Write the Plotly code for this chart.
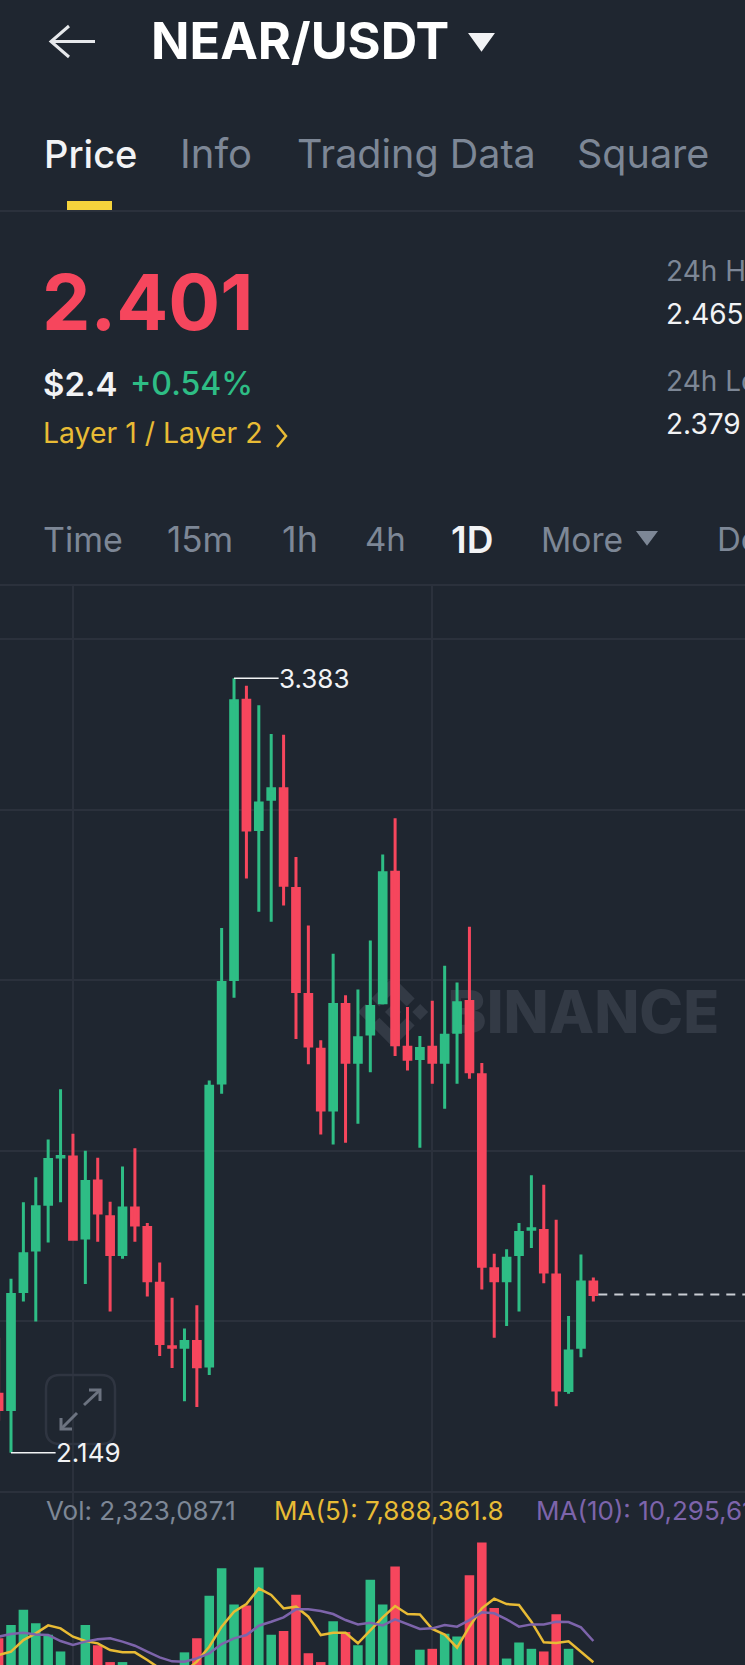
# NEAR/USDT 1D candles, app screenshot style
import plotly.graph_objects as go

W, H = 745, 1665

open_ = [2.242, 2.218, 2.406, 2.472, 2.545, 2.620, 2.620, 2.491, 2.582, 2.525,
         2.465, 2.539, 2.508, 2.419, 2.318, 2.317, 2.326, 2.287, 2.738, 2.903,
         3.348, 3.142, 3.190, 3.207, 3.048, 2.879, 2.792, 2.695, 2.863, 2.771,
         2.816, 2.866, 3.074, 2.795, 2.777, 2.795, 2.771, 2.819, 2.868, 2.751,
         2.442, 2.423, 2.465, 2.505, 2.503, 2.432, 2.248, 2.317, 2.421]
high = [2.332, 2.426, 2.548, 2.588, 2.648, 2.728, 2.657, 2.630, 2.619, 2.549,
        2.605, 2.634, 2.515, 2.452, 2.396, 2.347, 2.384, 2.742, 2.985, 3.383,
        3.371, 3.340, 3.294, 3.293, 3.098, 2.989, 2.806, 2.944, 2.878, 2.887,
        2.965, 3.102, 3.160, 2.859, 2.813, 2.869, 2.925, 2.898, 2.987, 2.770,
        2.466, 2.473, 2.515, 2.591, 2.576, 2.520, 2.367, 2.465, 2.428]
low = [2.200, 2.149, 2.390, 2.358, 2.484, 2.548, 2.487, 2.418, 2.485, 2.374,
       2.458, 2.485, 2.398, 2.303, 2.284, 2.231, 2.222, 2.273, 2.721, 2.874,
       3.064, 3.011, 2.995, 3.021, 2.808, 2.768, 2.656, 2.640, 2.643, 2.673,
       2.755, 2.863, 2.781, 2.758, 2.635, 2.737, 2.697, 2.737, 2.745, 2.409,
       2.332, 2.351, 2.374, 2.475, 2.419, 2.223, 2.243, 2.301, 2.390]
close = [2.218, 2.401, 2.466, 2.541, 2.616, 2.621, 2.489, 2.581, 2.531, 2.465,
         2.539, 2.512, 2.423, 2.323, 2.317, 2.326, 2.286, 2.733, 2.898, 3.347,
         3.141, 3.184, 3.207, 3.053, 2.884, 2.797, 2.695, 2.863, 2.771, 2.810,
         2.860, 3.073, 2.799, 2.776, 2.793, 2.771, 2.814, 2.866, 2.756, 2.446,
         2.423, 2.459, 2.500, 2.506, 2.437, 2.249, 2.311, 2.421, 2.401]

# volume in millions, the ones under the screen edge are guesses
vol_m = [10.6, 12.1, 13.8, 12.3, 11.0, 9.1, 7.0, 12.1, 9.8, 7.9,
         7.9, 7.0, 6.5, 6.8, 5.5, 9.0, 10.6, 15.4, 18.5, 14.4,
         14.3, 18.6, 11.0, 11.4, 15.5, 8.9, 7.9, 12.5, 11.3, 9.8,
         17.2, 14.4, 18.7, 7.0, 9.3, 9.4, 11.1, 10.8, 17.7, 21.4,
         14.0, 8.3, 10.1, 9.4, 9.1, 13.3, 9.4, 5.2, 2.323]
ma5_m = [8.70, 9.07, 10.39, 11.15, 12.05, 11.71, 10.77, 10.28, 10.02, 9.26,
         9.00, 9.00, 8.13, 7.19, 6.25, 6.82, 7.95, 9.64, 11.90, 13.59,
         14.46, 16.23, 15.48, 13.97, 14.16, 13.03, 10.96, 11.22, 11.22, 10.02,
         11.52, 12.95, 14.23, 13.33, 13.29, 11.64, 11.00, 9.53, 11.90, 13.97,
         15.06, 14.46, 14.35, 12.46, 10.13, 10.05, 10.24, 9.07, 7.89]
ma10_m = [10.77, 11.07, 11.22, 11.03, 10.96, 10.28, 9.83, 10.21, 10.47, 10.58,
          10.21, 9.75, 9.07, 8.43, 7.98, 7.95, 8.32, 8.89, 9.94, 10.58,
          10.96, 12.01, 12.46, 12.95, 13.86, 13.86, 13.67, 13.33, 12.65, 12.16,
          12.35, 12.05, 12.73, 12.20, 11.64, 11.71, 12.09, 11.90, 12.65, 13.52,
          13.41, 12.73, 11.90, 12.16, 12.16, 12.46, 12.43, 11.82, 10.28]

days = list(range(len(close)))

BG = "#1f2630"
GRID = "#2b313c"
GREEN = "#2ebd85"
RED = "#f6465d"
GREY = "#7d8796"
WHITE = "#f2f3f5"
YELLOW = "#e8bb35"
PURPLE = "#7d64ab"
FONT = "Inter"


def px(x):
    return x / W


def py(y):
    return 1 - y / H


def label(text, x, y, size, color, weight=400, anchor="left"):
    return dict(text=text, x=px(x), y=py(y), xref="paper", yref="paper", showarrow=False,
                xanchor=anchor, yanchor="middle", borderpad=0,
                font=dict(family=FONT, size=size, color=color, weight=weight))


def line(x0, y0, x1, y1, color, width):
    return dict(type="line", xref="paper", yref="paper", x0=px(x0), y0=py(y0), x1=px(x1), y1=py(y1),
                line=dict(color=color, width=width))


def path(points, fill=None, color=None, width=0, layer="above"):
    d = "M " + " L ".join(f"{px(a):.5f},{py(b):.5f}" for a, b in points) + (" Z" if fill else "")
    return dict(type="path", path=d, xref="paper", yref="paper", fillcolor=fill, layer=layer,
                line=dict(color=color or "rgba(0,0,0,0)", width=width))


fig = go.Figure()

# watermark sits on the first subplot so the candles draw over it
fig.add_trace(go.Scatter(x=[0.783], y=[0.522], mode="text", text=["BINANCE"], xaxis="x", yaxis="y",
                         textfont=dict(family=FONT, size=59, color="#333a45", weight=800),
                         hoverinfo="skip", showlegend=False))

fig.add_trace(go.Candlestick(
    x=days, open=open_, high=high, low=low, close=close, xaxis="x2", yaxis="y2",
    increasing=dict(line=dict(color=GREEN, width=3), fillcolor=GREEN),
    decreasing=dict(line=dict(color=RED, width=3), fillcolor=RED),
    whiskerwidth=0, showlegend=False,
))

fig.add_trace(go.Scatter(x=[days[-1] + 0.4, 62], y=[close[-1], close[-1]], mode="lines", xaxis="x2", yaxis="y2",
                         line=dict(color="#c9cdd3", width=2, dash="9px,7px"), hoverinfo="skip", showlegend=False))

bar_colors = [GREEN if c >= o else RED for o, c in zip(open_, close)]
fig.add_trace(go.Bar(x=days, y=vol_m, marker=dict(color=bar_colors, line_width=0), xaxis="x3", yaxis="y3", showlegend=False))
fig.add_trace(go.Scatter(x=days, y=ma5_m, mode="lines", line=dict(color=YELLOW, width=2.5), xaxis="x3", yaxis="y3", showlegend=False))
fig.add_trace(go.Scatter(x=days, y=ma10_m, mode="lines", line=dict(color=PURPLE, width=2.5), xaxis="x3", yaxis="y3", showlegend=False))

hi_i = high.index(max(high))
lo_i = low.index(min(low))

annotations = [
    label("NEAR/USDT", 150, 40, 50.5, "#ffffff", 700),
    label("Price", 43, 154, 38, WHITE, 500),
    label("Info", 179, 154, 40, GREY, 400),
    label("Trading Data", 296, 154, 39.5, GREY, 400),
    label("Square", 576, 154, 39.5, GREY, 400),
    label("2.401", 41, 302, 77, RED, 700),
    label("$2.4", 42, 384, 33, WHITE, 600),
    label("+0.54%", 129, 384, 32, GREEN, 500),
    label("Layer 1 / Layer 2", 42, 433, 28.4, YELLOW, 400),
    label("24h High", 665, 271, 28, GREY, 400),
    label("2.465", 665, 314, 28, WHITE, 400),
    label("24h Low", 665, 381, 28, GREY, 400),
    label("2.379", 665, 424, 28, WHITE, 400),
    label("Time", 42, 539, 34, GREY, 400),
    label("15m", 166, 539, 35, GREY, 400),
    label("1h", 281, 539, 36, GREY, 400),
    label("4h", 364, 539, 33, GREY, 400),
    label("1D", 450, 539, 37, WHITE, 600),
    label("More", 540, 539, 33.6, GREY, 400),
    label("Depth", 716, 539, 33, GREY, 400),
    label("Vol: 2,323,087.1", 45, 1510, 26, GREY, 400),
    label("MA(5): 7,888,361.8", 273, 1510, 26, YELLOW, 400),
    label("MA(10): 10,295,612.3", 535, 1510, 26, PURPLE, 400),
    dict(text=f"{high[hi_i]:.3f}", x=days[hi_i], y=high[hi_i], xref="x2", yref="y2", xshift=43, showarrow=False,
         xanchor="left", yanchor="middle", font=dict(family=FONT, size=26, color=WHITE)),
    dict(text=f"{low[lo_i]:.3f}", x=days[lo_i], y=low[lo_i], xref="x2", yref="y2", xshift=43, showarrow=False,
         xanchor="left", yanchor="middle", font=dict(family=FONT, size=26, color=WHITE)),
]

shapes = [
    line(0, 211, W, 211, GRID, 2),
    line(0, 585, W, 585, GRID, 2),
    line(0, 1492, W, 1492, GRID, 2),
    dict(type="rect", xref="paper", yref="paper", x0=px(67), x1=px(112), y0=py(201), y1=py(210),
         fillcolor="#f5d33c", line_width=0),
    # back arrow
    path([(69, 26), (51, 41.5), (69, 57)], color="#e6e8eb", width=3),
    line(51, 41.5, 95, 41.5, "#e6e8eb", 3),
    # dropdown marks
    path([(470, 34), (493, 34), (481.5, 50)], fill="#f2f3f5", color="#f2f3f5", width=2),
    path([(638, 532), (656, 532), (647, 544)], fill=GREY, color=GREY, width=2),
    # layer chevron
    path([(277, 425), (286, 436), (277, 447)], color=YELLOW, width=2.5),
    # expand button
    dict(type="path", xref="paper", yref="paper", line=dict(color="#2f3541", width=2.5),
         path=f"M {px(60)},{py(1375)} L {px(101)},{py(1375)} Q {px(115)},{py(1375)} {px(115)},{py(1389)} "
              f"L {px(115)},{py(1430)} Q {px(115)},{py(1444)} {px(101)},{py(1444)} L {px(60)},{py(1444)} "
              f"Q {px(46)},{py(1444)} {px(46)},{py(1430)} L {px(46)},{py(1389)} Q {px(46)},{py(1375)} {px(60)},{py(1375)} Z"),
    line(84, 1405, 100, 1390, "#6c7380", 3),
    path([(89, 1390), (100, 1390), (100, 1401)], color="#6c7380", width=3),
    line(77, 1413, 61, 1429, "#6c7380", 3),
    path([(61, 1418), (61, 1429), (72, 1429)], color="#6c7380", width=3),
    # callouts for the extremes
    dict(type="line", xref="x2", yref="y2", x0=days[hi_i], x1=days[hi_i] + 3.6, y0=high[hi_i], y1=high[hi_i],
         line=dict(color=WHITE, width=1.5)),
    dict(type="line", xref="x2", yref="y2", x0=days[lo_i], x1=days[lo_i] + 3.6, y0=low[lo_i], y1=low[lo_i],
         line=dict(color=WHITE, width=1.5)),
]

# watermark logo, the usual Binance outline on a 32 unit box
LOGO = "#333a45"
cx, cy, u = 393, 1012, 2.2
for pts in [
    [(0, -3.67), (3.67, 0), (0, 3.67), (-3.67, 0)],
    [(-16, 0), (-12.38, -3.62), (-8.76, 0), (-12.38, 3.62)],
    [(16, 0), (12.38, -3.62), (8.76, 0), (12.38, 3.62)],
    [(-6.21, -2.56), (0, -8.77), (6.22, -2.55), (9.84, -6.17), (0, -16), (-9.83, -6.17)],
    [(-6.21, 2.56), (0, 8.77), (6.22, 2.55), (9.84, 6.17), (0, 16), (-9.83, 6.17)],
]:
    shapes.append(path([(cx + a * u, cy + b * u) for a, b in pts], fill=LOGO, layer="below"))

grid = dict(showgrid=True, gridcolor=GRID, gridwidth=1.5, zeroline=False, showticklabels=False, ticks="", showline=False)
x_common = dict(range=[0.112, 60.24], tick0=6, dtick=29, **grid)

fig.update_layout(
    width=W, height=H, autosize=False,
    margin=dict(l=0, r=0, t=0, b=0),
    paper_bgcolor=BG, plot_bgcolor="rgba(0,0,0,0)",
    showlegend=False, bargap=0.23, boxgap=0.46, boxgroupgap=0,
    annotations=annotations, shapes=shapes,
    xaxis=dict(domain=[0, 1], range=[0, 1], visible=False, anchor="y"),
    yaxis=dict(domain=[py(1492), py(585)], range=[0.0, 1.0], visible=False, anchor="x"),
    xaxis2=dict(domain=[0, 1], anchor="y2", rangeslider=dict(visible=False), **x_common),
    yaxis2=dict(domain=[py(1492), py(585)], anchor="x2", range=[2.0864, 3.5315],
                tick0=2.3588, dtick=0.2715, **grid),
    xaxis3=dict(domain=[0, 1], anchor="y3", **x_common),
    yaxis3=dict(domain=[0, py(1492)], anchor="x3", range=[7.57, 27.12], showgrid=False,
                zeroline=False, showticklabels=False, ticks=""),
)

# page default margin would push the figure off the window
fig.write_html("out.html", config=dict(displayModeBar=False),
               post_script="document.body.style.margin='0';document.body.style.overflow='hidden';")
